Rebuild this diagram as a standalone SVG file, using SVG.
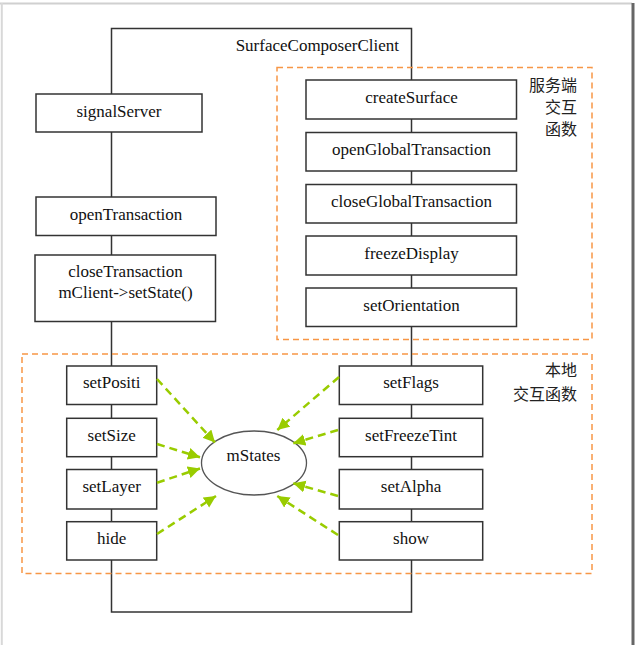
<svg xmlns="http://www.w3.org/2000/svg" width="635" height="645" viewBox="0 0 635 645">
<style>
.box{fill:#fff;stroke:#333;stroke-width:1.5}
.t{font-family:"Liberation Serif","Times New Roman",serif;font-size:17px;fill:#111;text-anchor:middle}
.cn{font-family:"Noto Sans CJK SC","Noto Sans",sans-serif;font-size:16px;fill:#222;text-anchor:end}
.grp{fill:none;stroke:#f79646;stroke-width:1.5;stroke-dasharray:6 4}
.arr{fill:none;stroke:#99cc00;stroke-width:2.5;stroke-dasharray:8 5;marker-end:url(#ah)}
</style>
<defs>
<marker id="ah" markerUnits="userSpaceOnUse" markerWidth="14" markerHeight="14" refX="12" refY="6" orient="auto">
<path d="M0,0 L12,6 L0,12 z" fill="#99cc00"/>
</marker>
</defs>
<rect width="635" height="645" fill="#fff"/>
<g id="frame">
<line x1="0" y1="3.5" x2="632" y2="3.5" stroke="#d0d0d0" stroke-width="2"/>
<line x1="1.8" y1="3" x2="1.8" y2="645" stroke="#d8d8d8" stroke-width="2"/>
<line x1="633" y1="3" x2="633" y2="645" stroke="#666" stroke-width="3"/>
</g>
<g id="SurfaceComposerClient">
<rect x="111.5" y="28.5" width="300" height="583.5" fill="none" stroke="#333" stroke-width="1.5"/>
<text x="399" y="50.5" class="t" style="text-anchor:end">SurfaceComposerClient</text>
</g>
<g id="server-group">
<rect x="277" y="67.5" width="315" height="272" class="grp"/>
<text class="cn" x="577" y="91">服务端</text>
<text class="cn" x="577" y="113">交互</text>
<text class="cn" x="577" y="135">函数</text>
</g>
<g id="local-group">
<rect x="22" y="354" width="570" height="219.5" class="grp"/>
<text class="cn" x="577" y="376">本地</text>
<text class="cn" x="577" y="400">交互函数</text>
</g>
<g id="signalServer"><rect x="36" y="94" width="166" height="38" class="box"/><text x="119" y="116.5" class="t">signalServer</text></g>
<g id="openTransaction"><rect x="36" y="197" width="180" height="38.5" class="box"/><text x="126" y="219.5" class="t">openTransaction</text></g>
<g id="closeTransaction"><rect x="35" y="255" width="180.5" height="66.5" class="box"/><text x="125.5" y="277" class="t">closeTransaction</text><text x="125.5" y="297.5" class="t">mClient-&gt;setState()</text></g>
<g id="createSurface"><rect x="306" y="80" width="210.5" height="39" class="box"/><text x="411.5" y="103" class="t">createSurface</text></g>
<g id="openGlobalTransaction"><rect x="306" y="132.5" width="210.5" height="38.5" class="box"/><text x="411.5" y="155" class="t">openGlobalTransaction</text></g>
<g id="closeGlobalTransaction"><rect x="306" y="184.5" width="210.5" height="38.5" class="box"/><text x="411.5" y="207" class="t">closeGlobalTransaction</text></g>
<g id="freezeDisplay"><rect x="306" y="236" width="210.5" height="39" class="box"/><text x="411.5" y="258.5" class="t">freezeDisplay</text></g>
<g id="setOrientation"><rect x="306" y="288" width="210.5" height="38.5" class="box"/><text x="411.5" y="310.5" class="t">setOrientation</text></g>
<g id="setPositi"><rect x="66.7" y="366" width="90" height="38.5" class="box"/><text x="111.7" y="388" class="t">setPositi</text></g>
<g id="setSize"><rect x="66.7" y="418.3" width="90" height="38.4" class="box"/><text x="111.7" y="440.5" class="t">setSize</text></g>
<g id="setLayer"><rect x="66.7" y="469.5" width="90" height="39.5" class="box"/><text x="111.7" y="492" class="t">setLayer</text></g>
<g id="hide"><rect x="66.7" y="521.7" width="90" height="38.3" class="box"/><text x="111.7" y="544" class="t">hide</text></g>
<g id="setFlags"><rect x="339.3" y="366" width="143.4" height="38.5" class="box"/><text x="411" y="388" class="t">setFlags</text></g>
<g id="setFreezeTint"><rect x="339.3" y="418.3" width="143.4" height="38.4" class="box"/><text x="411" y="440.5" class="t">setFreezeTint</text></g>
<g id="setAlpha"><rect x="339.3" y="469.5" width="143.4" height="39.5" class="box"/><text x="411" y="492" class="t">setAlpha</text></g>
<g id="show"><rect x="339.3" y="521.7" width="143.4" height="38.3" class="box"/><text x="411" y="544" class="t">show</text></g>
<g id="mStates"><ellipse cx="254" cy="463" rx="52.5" ry="32" fill="#fff" stroke="#555" stroke-width="1.3"/><text x="253.5" y="461" class="t">mStates</text></g>
<g id="connectors">
<line x1="157" y1="379" x2="215" y2="442.5" class="arr"/>
<line x1="157" y1="444" x2="200" y2="457.3" class="arr"/>
<line x1="157" y1="482.7" x2="200" y2="468.5" class="arr"/>
<line x1="157" y1="534" x2="216" y2="496" class="arr"/>
<line x1="339" y1="377" x2="277.3" y2="430" class="arr"/>
<line x1="338" y1="430" x2="293.3" y2="443.3" class="arr"/>
<line x1="338" y1="496" x2="293.3" y2="483.3" class="arr"/>
<line x1="338" y1="535" x2="277.3" y2="496" class="arr"/>
</g>
</svg>
